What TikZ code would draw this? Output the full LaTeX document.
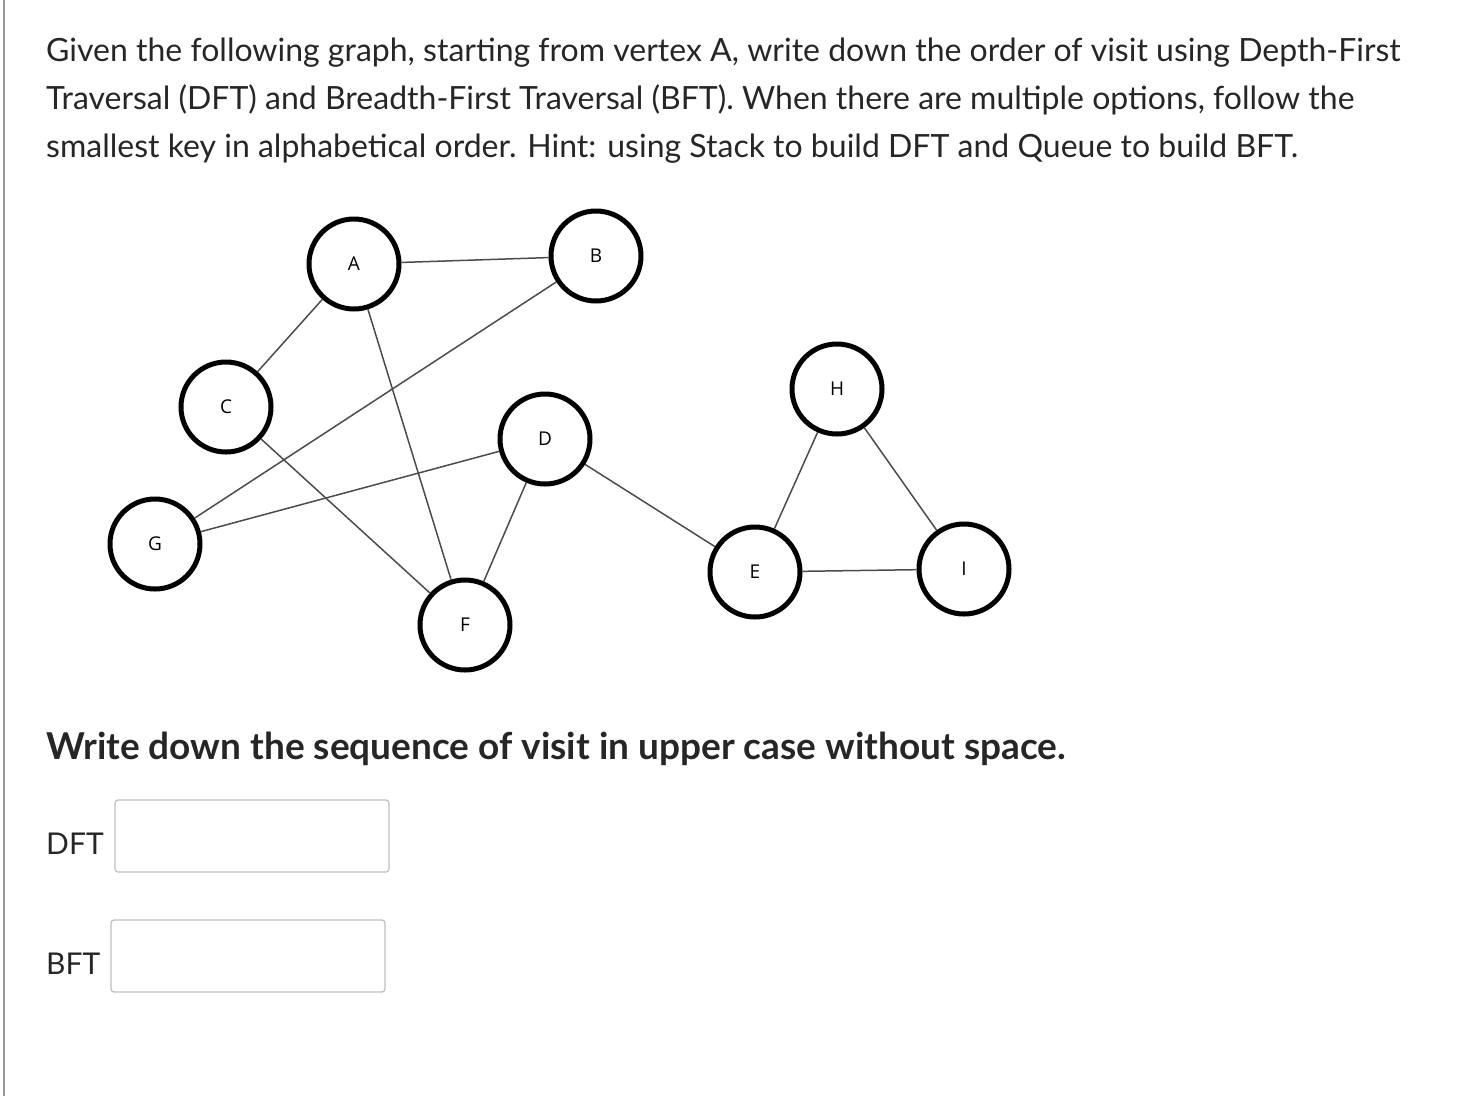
\documentclass[tikz,border=0pt]{standalone}
\usepackage{fontspec}
\setmainfont{Lato}
\newfontfamily\nodefont{Open Sans}
\begin{document}
\begin{tikzpicture}[x=1pt,y=-1pt,
  vtx/.style={circle,draw=black,line width=5pt,minimum size=90pt,inner sep=0pt,fill=white,font=\nodefont\fontsize{19}{19}\selectfont},
  edge/.style={draw=black!70,line width=1.5pt},
  txt/.style={anchor=base west,inner sep=0pt,font=\fontsize{32}{32}\selectfont,text=black!85},
  ansbox/.style={draw=black!25,line width=1.2pt,rounded corners=3pt}]
\useasboundingbox (0,0) rectangle (1475,1096);
\draw[black!40,line width=2pt] (4,0) -- (4,1096);
\node[txt] (l1) at (46,61) {Given the following graph, starting from vertex A, write down the order of visit using Depth-First};
\node[txt] (l2) at (46,109) {Traversal (DFT) and Breadth-First Traversal (BFT). When there are multiple options, follow the};
\node[txt] (l3) at (46,157) {smallest key in alphabetical order. Hint: using Stack to build DFT and Queue to build BFT.};
\node[vtx] (A) at (354,264) {A};
\node[vtx] (B) at (596,256) {B};
\node[vtx] (C) at (226,407) {C};
\node[vtx] (D) at (545,439) {D};
\node[vtx] (G) at (155,544) {G};
\node[vtx] (E) at (755,572) {E};
\node[vtx] (F) at (465,625) {F};
\node[vtx] (H) at (837,389) {H};
\node[vtx] (I) at (964,569) {I};
\draw[edge] (A) -- (B);
\draw[edge] (A) -- (C);
\draw[edge] (A) -- (F);
\draw[edge] (B) -- (G);
\draw[edge] (C) -- (F);
\draw[edge] (G) -- (D);
\draw[edge] (D) -- (F);
\draw[edge] (D) -- (E);
\draw[edge] (E) -- (H);
\draw[edge] (E) -- (I);
\draw[edge] (H) -- (I);
\node[txt,font=\bfseries\fontsize{37}{37}\selectfont,text=black!85] (w) at (46,759) {Write down the sequence of visit in upper case without space.};
\node[txt,font=\fontsize{30}{30}\selectfont] (dft) at (46,854) {DFT};
\node[txt,font=\fontsize{30}{30}\selectfont] (bft) at (46,974) {BFT};
\draw[ansbox] (115,800) rectangle (389,872);
\draw[ansbox] (111,920) rectangle (385,992);
\end{tikzpicture}
\end{document}
